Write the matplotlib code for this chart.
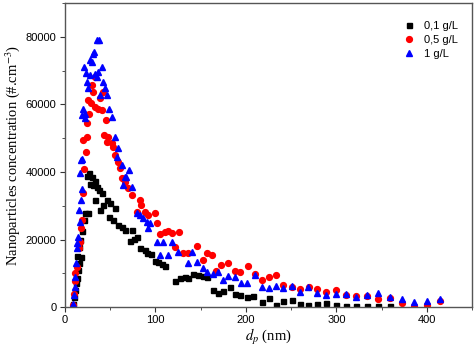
import matplotlib
matplotlib.use("Agg")
import matplotlib.pyplot as plt
from matplotlib.ticker import MultipleLocator

plt.rcParams["mathtext.fontset"] = "stix"

# 0,1 g/L
x_01 = [9.2, 10, 11.4, 12, 12.9, 14, 15.1, 13.6, 17.7, 15, 16.5, 18.4, 21, 22.4, 25.7,
        24, 26.9, 29.5, 33.1, 27.6, 31.3, 35, 37.9, 40.5, 33.1, 46, 41.6, 38.7, 49.7,
        55.2, 49, 53, 58.9, 62.6, 66.3, 73.7, 71.8, 79.1, 76.2, 82.9, 88.4, 91, 94.7,
        99.4, 103, 106.8, 110.5, 121.5, 127, 132.6, 136.3, 141.9, 147.3, 152.2, 156.6,
        164, 169.4, 175, 182.3, 187.8, 193.4, 200.7, 208, 217.3, 225, 233, 241, 250.5,
        259.7, 269, 279, 289, 300, 311, 322, 334, 346, 359]
y_01 = [1000, 3100, 5100, 7200, 8600, 11000, 13000, 15200, 14700, 17900, 19900, 22600,
        25800, 27800, 27800, 38800, 39800, 38600, 37400, 36600, 36100, 35600, 34700,
        33700, 31700, 31700, 30200, 28800, 30700, 29300, 26800, 25800, 24300, 23600,
        22800, 22800, 19700, 20900, 20100, 17400, 16900, 16000, 15700, 13700, 13300,
        12800, 12200, 7600, 8700, 9000, 8600, 9800, 9500, 9200, 9000, 5100, 4300, 4900,
        6100, 3900, 3500, 3100, 3400, 1400, 2700, 700, 1900, 2200, 800, 500, 800, 1100,
        700, 400, 400, 400, 400, 400]

# 0,5 g/L
x_05 = [8.5, 10, 11, 11, 12.8, 15.8, 16.6, 17.3, 18.4, 20.3, 21.3, 22.8, 20.3, 24.7,
        24.7, 26.9, 25.8, 28.4, 30.6, 30.2, 33.1, 33.1, 36.8, 38.7, 40.5, 42.3, 45.3,
        43.1, 47.8, 46, 51.6, 53.4, 55.2, 58.9, 60.8, 62.6, 66.3, 70, 73.7, 79.1, 82.9,
        84.6, 88.4, 92, 99.4, 102, 105, 110.5, 114.1, 117.9, 121.5, 126.3, 130.7, 136.3,
        145.5, 152.2, 156.6, 162, 167.5, 173, 180.4, 187.8, 193.4, 202.5, 210, 217.3,
        225, 233, 241, 250.5, 259.7, 269.6, 279, 289, 300, 311, 322, 334, 346.5, 359,
        372.7, 385.6, 400.3, 415]
y_05 = [700, 3800, 7600, 10000, 12000, 17400, 19400, 23400, 25800, 33700, 40800, 46000,
        49500, 50400, 54400, 57300, 61300, 60300, 63700, 65700, 68200, 59300, 58800,
        61800, 58300, 63700, 55400, 50900, 50400, 48900, 48500, 47500, 45000, 43000,
        41100, 38100, 37100, 35200, 33200, 28300, 31700, 30200, 28300, 27300, 27800,
        25000, 21700, 22300, 22600, 21900, 17900, 22100, 16000, 16000, 18100, 14000,
        16100, 15500, 10800, 12500, 13000, 10800, 10500, 12200, 9800, 8100, 8900, 9500,
        6600, 6000, 5300, 6100, 5300, 4500, 5100, 3600, 3200, 3300, 2400, 2800, 1200,
        400, 500, 1700]

# 1 g/L
x_1 = [9.2, 10, 11, 11.4, 12.2, 12.9, 13.6, 14.7, 16.6, 15.8, 17.3, 18.4, 16.6, 17.3,
       18.4, 19.5, 22.1, 18.4, 22.4, 21, 23.8, 24.7, 25.8, 27.6, 29.5, 27.6, 31.3, 32.4,
       33.1, 35, 35.7, 36.8, 37.9, 38.7, 40.5, 42.3, 44.2, 46, 48.9, 51.6, 55.2, 57.1,
       58.9, 62.6, 64.4, 66.3, 67.4, 71, 73.7, 80, 82.9, 86.5, 90.2, 92, 93.9, 101.3,
       105, 108.6, 114.1, 117.9, 125.2, 136.3, 140, 145.5, 152.8, 156.6, 164, 169.4,
       175, 180.4, 187.8, 195, 201.5, 209.6, 217.3, 225, 233, 241, 250.5, 259.7, 269,
       279, 289, 300, 311, 322, 334, 346.5, 359, 372.7, 385.6, 400.3, 415]
y_1 = [1000, 3600, 6100, 9000, 13000, 17400, 18900, 20900, 25300, 28800, 31700, 34900,
       39800, 43700, 44000, 58800, 57300, 56800, 55900, 71100, 69200, 66700, 65000,
       73300, 72600, 68700, 74900, 75600, 69000, 79000, 68200, 69600, 79200, 62800,
       71100, 66700, 65000, 62800, 58800, 56300, 50400, 44500, 47000, 42100, 36200,
       38600, 38600, 40600, 35600, 27800, 27300, 26300, 25300, 23400, 24800, 19400,
       15500, 19400, 15500, 19400, 16400, 13000, 16400, 13500, 11500, 10500, 9800,
       10500, 8100, 9300, 9000, 7100, 7100, 9500, 6100, 5600, 6300, 5600, 6400, 4600,
       6100, 4300, 3500, 3900, 3900, 3100, 3500, 4200, 3100, 2500, 1500, 1900, 2400]

fig = plt.figure(figsize=(4.74, 3.51), dpi=100)
ax = fig.add_axes([0.137, 0.125, 0.859, 0.866])

ax.plot(x_01, y_01, linestyle="none", marker="s", ms=3.6, color="black", label="0,1 g/L")
ax.plot(x_05, y_05, linestyle="none", marker="o", ms=4.2, color="#ff0000", label="0,5 g/L")
ax.plot(x_1, y_1, linestyle="none", marker="^", ms=4.4, color="#0000ff", label="1 g/L")

ax.set_xlim(0, 450)
ax.set_ylim(0, 90000)
ax.xaxis.set_major_locator(MultipleLocator(100))
ax.xaxis.set_minor_locator(MultipleLocator(50))
ax.yaxis.set_major_locator(MultipleLocator(20000))
ax.yaxis.set_minor_locator(MultipleLocator(10000))
ax.tick_params(which="both", direction="out", color="#333333", labelsize=8,
               top=False, right=False, pad=2.5)
ax.tick_params(which="major", length=3.5)
ax.tick_params(which="minor", length=2)
for lab in ax.get_xticklabels() + ax.get_yticklabels():
    lab.set_family("Liberation Sans")
for s in ax.spines.values():
    s.set_color("#555555")
    s.set_linewidth(1.0)

ax.set_ylabel("Nanoparticles concentration (#.cm$^{-3}$)", family="Liberation Serif",
              fontsize=10.5, labelpad=3)
ax.set_xlabel("$d_p$ (nm)", family="Liberation Serif", fontsize=10.5, labelpad=1)

ax.legend(loc="upper right", bbox_to_anchor=(0.99, 0.975), frameon=False,
          prop={"family": "Liberation Sans", "size": 8}, handletextpad=0.6,
          labelspacing=0.35, handlelength=1.5)

fig.savefig("out.png", dpi=100)
